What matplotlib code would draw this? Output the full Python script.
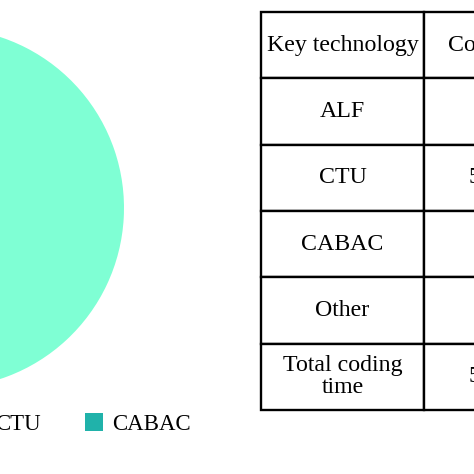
import matplotlib
matplotlib.use('Agg')
import matplotlib.pyplot as plt

# pie data (share of coding time)
pie_labels = ['ALF', 'CTU', 'CABAC']
pie_values = [0.71, 97.88, 1.41]
pie_colors = ['mediumaquamarine', 'aquamarine', 'lightseagreen']

# table data
col_labels = ['Key technology', 'Coding time']
row_names = ['ALF', 'CTU', 'CABAC', 'Other', 'Total coding\ntime']
row_times = ['41.37', '5712.48', '62.09', '20.27', '5836.21']

plt.rcParams['font.family'] = ['Liberation Serif', 'DejaVu Serif']

W = 474.0
fig = plt.figure(figsize=(4.74, 4.74), dpi=100)

# pie, centre sits left of the canvas
cx, cy, r = -56, 208, 180
ax = fig.add_axes([(cx - r) / W, (W - cy - r) / W, 2 * r / W, 2 * r / W])
wedges, _ = ax.pie(pie_values, colors=pie_colors, startangle=90,
                   counterclock=True, radius=1)
ax.set_xlim(-1, 1)
ax.set_ylim(-1, 1)
ax.set_aspect('equal')
ax.axis('off')

leg = fig.legend(wedges, pie_labels, loc='center left', ncol=3,
                 bbox_to_anchor=(-168 / W, (W - 424) / W), frameon=False,
                 fontsize=16.5, handlelength=0.8, handleheight=0.8,
                 handletextpad=0.42, columnspacing=1.9)

# table
tx0, tx1, ty0, ty1 = 261, 591, 12, 410
tax = fig.add_axes([tx0 / W, (W - ty1) / W, (tx1 - tx0) / W, (ty1 - ty0) / W])
tax.axis('off')
cells = [[n, t] for n, t in zip(row_names, row_times)]
tb = tax.table(cellText=cells, colLabels=col_labels, cellLoc='center',
               colWidths=[163, 167], bbox=[0, 0, 1, 1])
tb.auto_set_font_size(False)
tb.set_fontsize(17.2)
for (i, j), cell in tb.get_celld().items():
    cell.set_linewidth(1.7)
    cell.set_edgecolor('black')
    cell.get_text().set_linespacing(1.05)

fig.savefig('out.png', dpi=100)
